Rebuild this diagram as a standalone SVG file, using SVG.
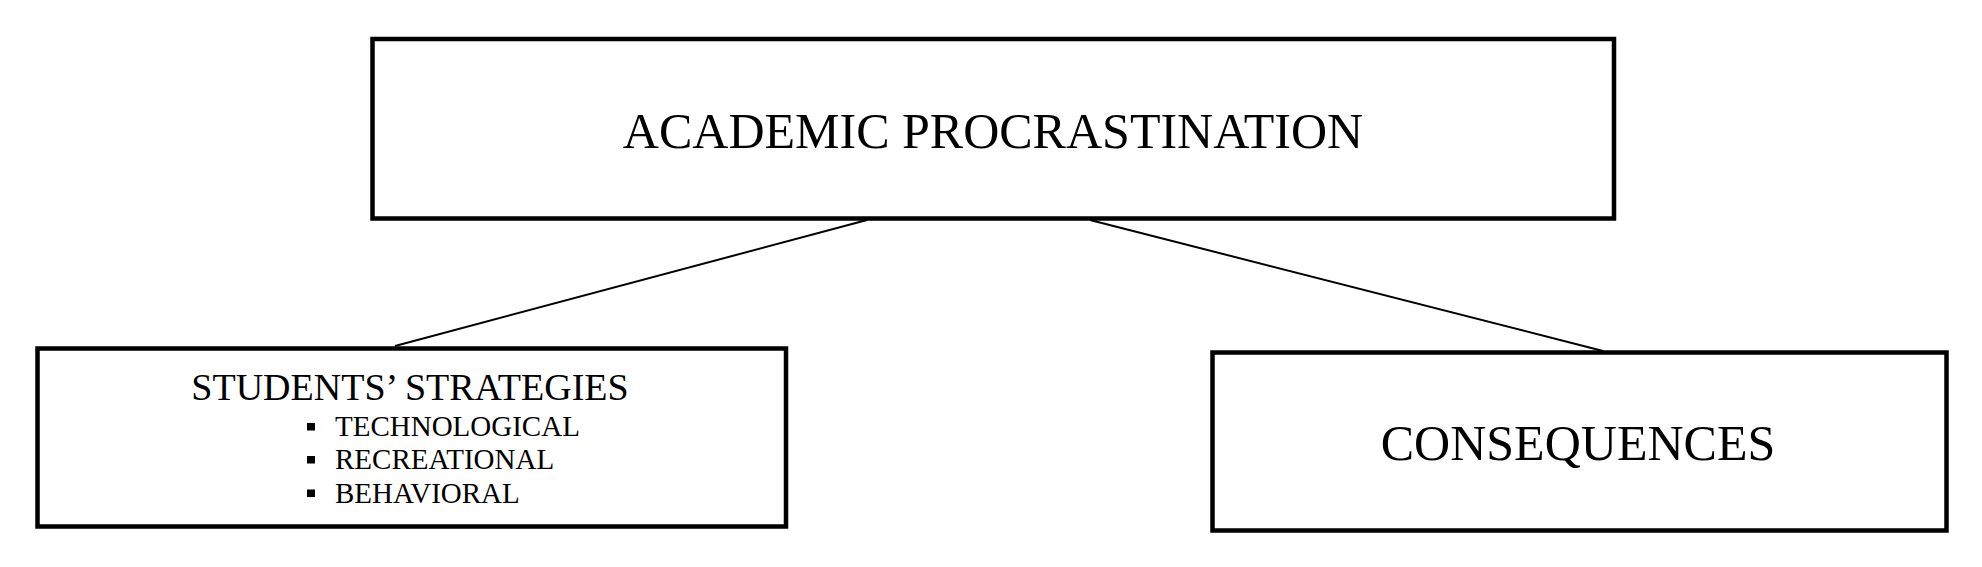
<svg xmlns="http://www.w3.org/2000/svg" width="1982" height="567" viewBox="0 0 1982 567">
<style>
.box{fill:#fff;stroke:#000;stroke-width:4.5}
.big{font-family:"Liberation Serif","Times New Roman",serif;font-size:50px;fill:#000}
.mid{font-family:"Liberation Serif","Times New Roman",serif;font-size:38px;fill:#000}
.sm{font-family:"Liberation Serif","Times New Roman",serif;font-size:29px;fill:#000}
.conn{stroke:#000;stroke-width:2;fill:none}
</style>
<rect width="1982" height="567" fill="#fff"/>
<g id="connectors">
<line class="conn" x1="867" y1="220" x2="395" y2="346"/>
<line class="conn" x1="1090" y1="220" x2="1603" y2="351"/>
</g>
<g id="node-academic">
<rect class="box" x="372.5" y="39" width="1241.5" height="179.5"/>
<text class="big" x="993" y="148" text-anchor="middle">ACADEMIC PROCRASTINATION</text>
</g>
<g id="node-strategies">
<rect class="box" x="37.5" y="348.5" width="748.5" height="178"/>
<text class="mid" x="410" y="399.5" text-anchor="middle">STUDENTS’ STRATEGIES</text>
<rect x="307" y="423" width="8" height="7.5" fill="#000"/>
<text class="sm" x="335" y="436">TECHNOLOGICAL</text>
<rect x="307" y="456" width="8" height="7.5" fill="#000"/>
<text class="sm" x="335" y="469">RECREATIONAL</text>
<rect x="307" y="489.5" width="8" height="7.5" fill="#000"/>
<text class="sm" x="335" y="502.5">BEHAVIORAL</text>
</g>
<g id="node-consequences">
<rect class="box" x="1212.5" y="352.5" width="734" height="178"/>
<text class="big" x="1578" y="460" text-anchor="middle">CONSEQUENCES</text>
</g>
</svg>
